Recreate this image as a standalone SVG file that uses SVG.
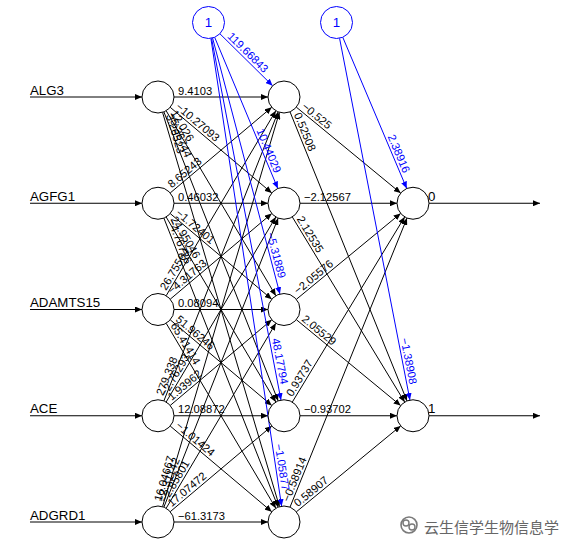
<svg xmlns="http://www.w3.org/2000/svg" width="568" height="552" viewBox="0 0 568 552">
<style>
.n{fill:#fff;stroke:#000;stroke-width:1}
.b{fill:#fff;stroke:#00f;stroke-width:1}
.c{stroke:#000;stroke-width:1;fill:none;marker-end:url(#ak)}
.cb{stroke:#00f;stroke-width:1;fill:none;marker-end:url(#ab)}
.t{font-family:"Liberation Sans",Arial,sans-serif;font-size:13.3px;fill:#000}
.tb{font-family:"Liberation Sans",Arial,sans-serif;font-size:13.3px;fill:#00f}
.w{font-family:"Liberation Sans",Arial,sans-serif;font-size:11.2px;fill:#000}
.wb{font-family:"Liberation Sans",Arial,sans-serif;font-size:11.2px;fill:#00f;text-anchor:end}
.wm{font-family:"Noto Sans CJK SC",sans-serif;font-size:15px;fill:#666}
</style>
<defs>
<marker id="ak" viewBox="0 0 7 6" refX="7" refY="3" markerWidth="7" markerHeight="6" markerUnits="userSpaceOnUse" orient="auto"><path d="M0,0 L7,3 L0,6 z" fill="#000"/></marker>
<marker id="ab" viewBox="0 0 7 6" refX="7" refY="3" markerWidth="7" markerHeight="6" markerUnits="userSpaceOnUse" orient="auto"><path d="M0,0 L7,3 L0,6 z" fill="#00f"/></marker>
</defs>
<rect width="568" height="552" fill="#fff"/>
<g id="connectors">
<line class="c" x1="30" y1="97" x2="142" y2="97"/>
<line class="c" x1="30" y1="203.25" x2="142" y2="203.25"/>
<line class="c" x1="30" y1="309.5" x2="142" y2="309.5"/>
<line class="c" x1="30" y1="415.75" x2="142" y2="415.75"/>
<line class="c" x1="30" y1="522" x2="142" y2="522"/>
<line class="c" x1="174" y1="97" x2="268" y2="97"/>
<line class="c" x1="170.23" y1="107.31" x2="271.77" y2="192.94"/>
<line class="c" x1="166.16" y1="110.76" x2="275.84" y2="295.74"/>
<line class="c" x1="163.88" y1="111.88" x2="278.12" y2="400.87"/>
<line class="c" x1="162.55" y1="112.34" x2="279.45" y2="506.66"/>
<line class="c" x1="170.23" y1="192.94" x2="271.77" y2="107.31"/>
<line class="c" x1="174" y1="203.25" x2="268" y2="203.25"/>
<line class="c" x1="170.23" y1="213.56" x2="271.77" y2="299.19"/>
<line class="c" x1="166.16" y1="217.01" x2="275.84" y2="401.99"/>
<line class="c" x1="163.88" y1="218.13" x2="278.12" y2="507.12"/>
<line class="c" x1="166.16" y1="295.74" x2="275.84" y2="110.76"/>
<line class="c" x1="170.23" y1="299.19" x2="271.77" y2="213.56"/>
<line class="c" x1="174" y1="309.5" x2="268" y2="309.5"/>
<line class="c" x1="170.23" y1="319.81" x2="271.77" y2="405.44"/>
<line class="c" x1="166.16" y1="323.26" x2="275.84" y2="508.24"/>
<line class="c" x1="163.88" y1="400.87" x2="278.12" y2="111.88"/>
<line class="c" x1="166.16" y1="401.99" x2="275.84" y2="217.01"/>
<line class="c" x1="170.23" y1="405.44" x2="271.77" y2="319.81"/>
<line class="c" x1="174" y1="415.75" x2="268" y2="415.75"/>
<line class="c" x1="170.23" y1="426.06" x2="271.77" y2="511.69"/>
<line class="c" x1="162.55" y1="506.66" x2="279.45" y2="112.34"/>
<line class="c" x1="163.88" y1="507.12" x2="278.12" y2="218.13"/>
<line class="c" x1="166.16" y1="508.24" x2="275.84" y2="323.26"/>
<line class="c" x1="170.23" y1="511.69" x2="271.77" y2="426.06"/>
<line class="c" x1="174" y1="522" x2="268" y2="522"/>
<line class="cb" x1="219.89" y1="33.74" x2="272.61" y2="85.76"/>
<line class="cb" x1="214.67" y1="37.26" x2="277.83" y2="188.49"/>
<line class="cb" x1="212.57" y1="37.97" x2="279.93" y2="294.03"/>
<line class="cb" x1="211.52" y1="38.21" x2="280.98" y2="400.04"/>
<line class="cb" x1="210.89" y1="38.32" x2="281.61" y2="506.18"/>
<line class="c" x1="296.35" y1="107.17" x2="400.65" y2="193.08"/>
<line class="c" x1="290" y1="111.83" x2="407" y2="400.92"/>
<line class="c" x1="300" y1="203.25" x2="397" y2="203.25"/>
<line class="c" x1="292.3" y1="216.93" x2="404.7" y2="402.07"/>
<line class="c" x1="296.35" y1="299.33" x2="400.65" y2="213.42"/>
<line class="c" x1="296.35" y1="319.67" x2="400.65" y2="405.58"/>
<line class="c" x1="292.3" y1="402.07" x2="404.7" y2="216.93"/>
<line class="c" x1="300" y1="415.75" x2="397" y2="415.75"/>
<line class="c" x1="290" y1="507.17" x2="407" y2="218.08"/>
<line class="c" x1="296.35" y1="511.83" x2="400.65" y2="425.92"/>
<line class="cb" x1="342.74" y1="37.23" x2="406.76" y2="188.52"/>
<line class="cb" x1="339.56" y1="38.21" x2="409.94" y2="400.04"/>
<line class="c" x1="429" y1="203.25" x2="540" y2="203.25"/>
<line class="c" x1="429" y1="415.75" x2="540" y2="415.75"/>
</g>
<g id="weights">
<text class="w" transform="translate(178,94.5)">9.4103</text>
<text class="w" transform="translate(174.9,107.98) rotate(40.14)">−10.27093</text>
<text class="w" transform="translate(170.35,112.93) rotate(59.33)">12.026</text>
<text class="w" transform="translate(167.68,114.68) rotate(68.43)">−5.36744</text>
<text class="w" transform="translate(166.08,115.46) rotate(73.49)">3.26523</text>
<text class="w" transform="translate(171.68,188.45) rotate(-40.14)">8.65243</text>
<text class="w" transform="translate(178,200.75)">0.46032</text>
<text class="w" transform="translate(174.9,214.23) rotate(40.14)">−1.72401</text>
<text class="w" transform="translate(170.35,219.18) rotate(59.33)">24.95046</text>
<text class="w" transform="translate(167.68,220.93) rotate(68.43)">−4.76726</text>
<text class="w" transform="translate(166.05,291.02) rotate(-59.33)">26.75564</text>
<text class="w" transform="translate(171.68,294.7) rotate(-40.14)">−4.31763</text>
<text class="w" transform="translate(178,307)">0.08094</text>
<text class="w" transform="translate(174.9,320.48) rotate(40.14)">51.96246</text>
<text class="w" transform="translate(170.35,325.43) rotate(59.33)">65.41414</text>
<text class="w" transform="translate(163.03,396.23) rotate(-68.43)">279.338</text>
<text class="w" transform="translate(166.05,397.27) rotate(-59.33)">−2.76293</text>
<text class="w" transform="translate(171.68,400.95) rotate(-40.14)">1.93962</text>
<text class="w" transform="translate(178,413.25)">12.08872</text>
<text class="w" transform="translate(174.9,426.73) rotate(40.14)">−1.01424</text>
<text class="w" transform="translate(161.29,502.12) rotate(-73.49)">16.04667</text>
<text class="w" transform="translate(163.03,502.48) rotate(-68.43)">−2.31142</text>
<text class="w" transform="translate(166.05,503.52) rotate(-59.33)">−2.85801</text>
<text class="w" transform="translate(171.68,507.2) rotate(-40.14)">17.07472</text>
<text class="w" transform="translate(178,519.5)">−61.3173</text>
<text class="wb" transform="translate(263.69,73.45) rotate(44.62)">119.66843</text>
<text class="wb" transform="translate(274.36,173.68) rotate(67.33)">10.44029</text>
<text class="wb" transform="translate(278.53,278.88) rotate(75.26)">−5.31889</text>
<text class="wb" transform="translate(280.61,384.83) rotate(79.13)">48.17794</text>
<text class="wb" transform="translate(281.84,490.97) rotate(81.41)">−1.05877</text>
<text class="w" transform="translate(301.03,107.79) rotate(39.48)">−0.525</text>
<text class="w" transform="translate(293.82,114.6) rotate(67.97)">0.52508</text>
<text class="w" transform="translate(304,200.75)">−2.12567</text>
<text class="w" transform="translate(296.52,219.05) rotate(58.74)">2.12535</text>
<text class="w" transform="translate(297.85,294.85) rotate(-39.48)">−2.05576</text>
<text class="w" transform="translate(301.03,320.29) rotate(39.48)">2.05529</text>
<text class="w" transform="translate(292.24,397.35) rotate(-58.74)">0.93737</text>
<text class="w" transform="translate(304,413.25)">−0.93702</text>
<text class="w" transform="translate(289.19,502.52) rotate(-67.97)">−0.58914</text>
<text class="w" transform="translate(297.85,507.35) rotate(-39.48)">0.58907</text>
<text class="wb" transform="translate(403.22,173.73) rotate(67.06)">2.38916</text>
<text class="wb" transform="translate(409.53,384.84) rotate(78.99)">−1.38908</text>
</g>
<g id="in_ALG3"><circle class="n" cx="158" cy="97" r="16"/><text class="t" x="30" y="94.5">ALG3</text></g>
<g id="in_AGFG1"><circle class="n" cx="158" cy="203.25" r="16"/><text class="t" x="30" y="200.75">AGFG1</text></g>
<g id="in_ADAMTS15"><circle class="n" cx="158" cy="309.5" r="16"/><text class="t" x="30" y="307">ADAMTS15</text></g>
<g id="in_ACE"><circle class="n" cx="158" cy="415.75" r="16"/><text class="t" x="30" y="413.25">ACE</text></g>
<g id="in_ADGRD1"><circle class="n" cx="158" cy="522" r="16"/><text class="t" x="30" y="519.5">ADGRD1</text></g>
<g id="hid_1"><circle class="n" cx="284" cy="97" r="16"/></g>
<g id="hid_2"><circle class="n" cx="284" cy="203.25" r="16"/></g>
<g id="hid_3"><circle class="n" cx="284" cy="309.5" r="16"/></g>
<g id="hid_4"><circle class="n" cx="284" cy="415.75" r="16"/></g>
<g id="hid_5"><circle class="n" cx="284" cy="522" r="16"/></g>
<g id="out_0"><circle class="n" cx="413" cy="203.25" r="16"/><text class="t" x="428" y="200.75">0</text></g>
<g id="out_1"><circle class="n" cx="413" cy="415.75" r="16"/><text class="t" x="428" y="413.25">1</text></g>
<g id="bias_1"><circle class="b" cx="208.5" cy="22.5" r="16"/><text class="tb" x="208.5" y="27.3" text-anchor="middle">1</text></g>
<g id="bias_2"><circle class="b" cx="336.5" cy="22.5" r="16"/><text class="tb" x="336.5" y="27.3" text-anchor="middle">1</text></g>
<g id="watermark">
<circle cx="409" cy="525" r="8" fill="none" stroke="#7a7a7a" stroke-width="1.6"/>
<circle cx="406" cy="523" r="3" fill="none" stroke="#7a7a7a" stroke-width="1.4"/>
<circle cx="412" cy="527" r="3" fill="none" stroke="#7a7a7a" stroke-width="1.4"/>
<text class="wm" x="424" y="533">云生信学生物信息学</text>
</g>
</svg>
